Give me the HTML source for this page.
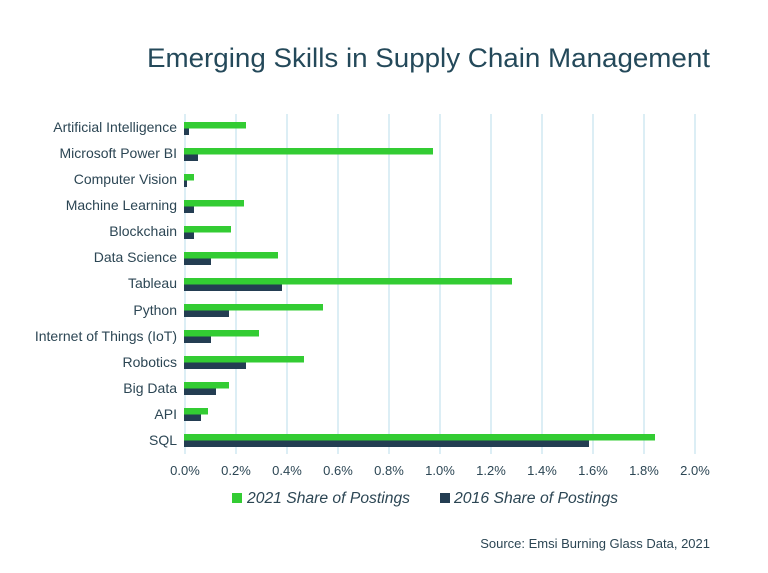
<!DOCTYPE html><html><head><style>body{margin:0;background:#fff}</style></head><body>
<svg width="768" height="568" xmlns="http://www.w3.org/2000/svg" font-family="Liberation Sans, sans-serif">
<rect width="768" height="568" fill="#fff"/>
<text x="147" y="67" font-size="27" fill="#24495a" textLength="563" lengthAdjust="spacingAndGlyphs">Emerging Skills in Supply Chain Management</text>
<g stroke="#dceef5" stroke-width="2">
<line x1="236" y1="114" x2="236" y2="454"/><line x1="287" y1="114" x2="287" y2="454"/><line x1="338" y1="114" x2="338" y2="454"/><line x1="389" y1="114" x2="389" y2="454"/><line x1="440" y1="114" x2="440" y2="454"/><line x1="491" y1="114" x2="491" y2="454"/><line x1="542" y1="114" x2="542" y2="454"/><line x1="593" y1="114" x2="593" y2="454"/><line x1="644" y1="114" x2="644" y2="454"/><line x1="695" y1="114" x2="695" y2="454"/><line x1="185" y1="114" x2="185" y2="454"/>
</g>
<g font-size="14" fill="#2c4654" text-anchor="end">
<text x="177" y="132">Artificial Intelligence</text><text x="177" y="158">Microsoft Power BI</text><text x="177" y="184">Computer Vision</text><text x="177" y="210">Machine Learning</text><text x="177" y="236">Blockchain</text><text x="177" y="262">Data Science</text><text x="177" y="288">Tableau</text><text x="177" y="315">Python</text><text x="177" y="341">Internet of Things (IoT)</text><text x="177" y="367">Robotics</text><text x="177" y="393">Big Data</text><text x="177" y="419">API</text><text x="177" y="445">SQL</text>
</g>
<g fill="#33cc33">
<rect x="184" y="122" width="62" height="6.5"/><rect x="184" y="148" width="249" height="6.5"/><rect x="184" y="174" width="10" height="6.5"/><rect x="184" y="200" width="60" height="6.5"/><rect x="184" y="226" width="47" height="6.5"/><rect x="184" y="252" width="94" height="6.5"/><rect x="184" y="278" width="328" height="6.5"/><rect x="184" y="304" width="139" height="6.5"/><rect x="184" y="330" width="75" height="6.5"/><rect x="184" y="356" width="120" height="6.5"/><rect x="184" y="382" width="45" height="6.5"/><rect x="184" y="408" width="24" height="6.5"/><rect x="184" y="434" width="471" height="6.5"/>
</g>
<g fill="#233d52">
<rect x="184" y="128.5" width="5" height="6.5"/><rect x="184" y="154.5" width="14" height="6.5"/><rect x="184" y="180.5" width="3" height="6.5"/><rect x="184" y="206.5" width="10" height="6.5"/><rect x="184" y="232.5" width="10" height="6.5"/><rect x="184" y="258.5" width="27" height="6.5"/><rect x="184" y="284.5" width="98" height="6.5"/><rect x="184" y="310.5" width="45" height="6.5"/><rect x="184" y="336.5" width="27" height="6.5"/><rect x="184" y="362.5" width="62" height="6.5"/><rect x="184" y="388.5" width="32" height="6.5"/><rect x="184" y="414.5" width="17" height="6.5"/><rect x="184" y="440.5" width="405" height="6.5"/>
</g>
<g font-size="13" fill="#2c4654" text-anchor="middle">
<text x="185" y="475">0.0%</text><text x="236" y="475">0.2%</text><text x="287" y="475">0.4%</text><text x="338" y="475">0.6%</text><text x="389" y="475">0.8%</text><text x="440" y="475">1.0%</text><text x="491" y="475">1.2%</text><text x="542" y="475">1.4%</text><text x="593" y="475">1.6%</text><text x="644" y="475">1.8%</text><text x="695" y="475">2.0%</text>
</g>
<rect x="232" y="493" width="10" height="10" fill="#33cc33"/>
<text x="247" y="503" font-size="15.5" font-style="italic" fill="#2c4654" textLength="163" lengthAdjust="spacingAndGlyphs">2021 Share of Postings</text>
<rect x="440" y="493" width="10" height="10" fill="#233d52"/>
<text x="454" y="503" font-size="15.5" font-style="italic" fill="#2c4654" textLength="164" lengthAdjust="spacingAndGlyphs">2016 Share of Postings</text>
<text x="710" y="548" font-size="13" fill="#2c4654" text-anchor="end">Source: Emsi Burning Glass Data, 2021</text>
</svg></body></html>
